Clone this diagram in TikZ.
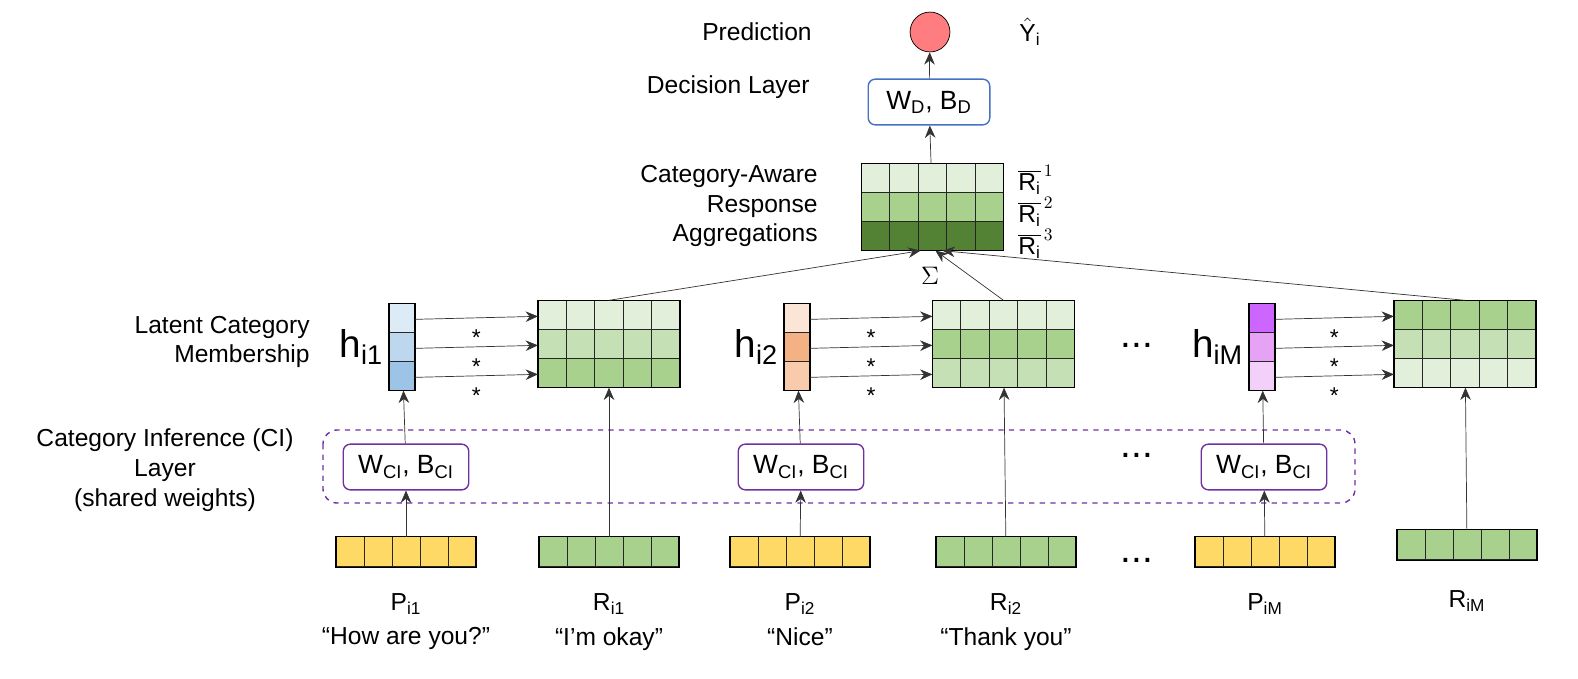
\documentclass[tikz,border=0pt]{standalone}
\usepackage{fontspec}
\setmainfont{Liberation Sans}
\usetikzlibrary{arrows.meta,calc,positioning}
\definecolor{gA}{HTML}{E2EFDA}
\definecolor{gB}{HTML}{C5E0B4}
\definecolor{gC}{HTML}{A9D18E}
\definecolor{gD}{HTML}{548235}
\definecolor{yP}{HTML}{FFD966}
\definecolor{bA}{HTML}{DDEBF7}
\definecolor{bB}{HTML}{BDD7EE}
\definecolor{bC}{HTML}{9DC3E6}
\definecolor{oA}{HTML}{FBE5D6}
\definecolor{oB}{HTML}{F4B183}
\definecolor{oC}{HTML}{F8CBAD}
\definecolor{pA}{HTML}{CC66FF}
\definecolor{pB}{HTML}{E6A3F5}
\definecolor{pC}{HTML}{F2D0F9}
\definecolor{ciPurple}{HTML}{7030A0}
\definecolor{dBlue}{HTML}{4472C4}
\definecolor{predRed}{HTML}{FF7C80}
\tikzset{
  txt/.style={font=\fontsize{14}{17}\selectfont,inner sep=0pt},
  lbl/.style={txt,align=right,anchor=east},
  box/.style={draw,thick,rounded corners=4pt,minimum width=71.4pt,minimum height=26pt,font=\fontsize{15}{18}\selectfont},
  arr/.style={-{Stealth[length=7pt,width=6pt]},draw=black!80},
  cell/.style={draw=black!85,thin},
  star/.style={font=\fontsize{13}{13}\selectfont}
}
% matrix of 3 rows x 5 columns
\newcommand\respmat[3]{%
  \node[minimum width=80.5pt,minimum height=49.3pt,inner sep=0pt] (#1) at (#2) {};
  \foreach \cc [count=\rr] in {#3} {
    \foreach \kk in {0,...,4}
      \draw[cell,fill=\cc] ($(#1.north west)+(\kk*28.4,\rr*29-29)$) rectangle ++(28.4,29);}
  \draw[thick] (#1.north west) rectangle (#1.south east);}
% one row of 5 cells
\newcommand\inrow[3]{%
  \node[minimum width=79.4pt,minimum height=17pt,inner sep=0pt] (#1) at (#2) {};
  \foreach \kk in {0,...,4}
    \draw[cell,fill=#3] ($(#1.north west)+(\kk*28,0)$) rectangle ++(28,30);
  \draw[thick] (#1.north west) rectangle (#1.south east);}
% membership column
\newcommand\hcol[3]{%
  \node[minimum width=14.2pt,minimum height=49.3pt,inner sep=0pt] (#1) at (#2) {};
  \foreach \cc [count=\rr] in {#3}
    \draw[cell,fill=\cc] ($(#1.north west)+(0,\rr*29-29)$) rectangle ++(25,29);
  \draw[thick] (#1.north west) rectangle (#1.south east);}
\begin{document}
\begin{tikzpicture}[x=0.02cm,y=-0.02cm]
\useasboundingbox (0,0) rectangle (1578,679);
% top part
\node[circle,draw,fill=predRed,minimum size=22.7pt,inner sep=0pt] (pred) at (930,32) {};
\node[txt] (yhat) at (1030,32) {$\hat{\mathrm{Y}}_{\mathrm{i}}$};
\node[lbl] at (812,32) {Prediction};
\node[box,draw=dBlue,minimum width=69.2pt] (dec) at (929,102) {W\textsubscript{D}, B\textsubscript{D}};
\node[lbl] at (810,87) {Decision Layer};
\respmat{agg}{932.5,207}{gA,gC,gD}
\node[lbl] at (818,206) {Category-Aware\\Response\\Aggregations};
\node[txt,anchor=west] at (1018,180) {$\overline{\mathrm{R}_{\mathrm{i}}}^{\,1}$};
\node[txt,anchor=west] at (1018,212) {$\overline{\mathrm{R}_{\mathrm{i}}}^{\,2}$};
\node[txt,anchor=west] at (1018,244) {$\overline{\mathrm{R}_{\mathrm{i}}}^{\,3}$};
\node[txt] (sum) at (930,276) {$\Sigma$};
\draw[arr] (agg) -- (dec);
\draw[arr] (dec) -- (pred);
% latent membership
\node[lbl] at (310,342) {Latent Category\\Membership};
\hcol{h1}{402,347}{bA,bB,bC}
\hcol{h2}{797,347}{oA,oB,oC}
\hcol{h3}{1262,347}{pA,pB,pC}
\node[font=\fontsize{22}{24}\selectfont,anchor=east] at (h1.west) {h\textsubscript{i1}};
\node[font=\fontsize{22}{24}\selectfont,anchor=east] at (h2.west) {h\textsubscript{i2}};
\node[font=\fontsize{22}{24}\selectfont,anchor=east] at (h3.west) {h\textsubscript{iM}};
\respmat{m1}{609,344}{gA,gB,gC}
\respmat{m2}{1003.5,344}{gA,gC,gB}
\respmat{m3}{1465,344}{gC,gB,gA}
\foreach \hv/\mv in {h1/m1,h2/m2,h3/m3}
  \foreach \rw in {16,45,74}
    \draw[arr] ($(\hv.north east)+(0,\rw)$) -- ($(\mv.north west)+(0,\rw)$)
      node[midway,below=3pt,star] {*};
\node[font=\fontsize{22}{22}\selectfont] at (1137,345) {...};
% aggregation connectors
\draw[arr] (m1.north) -- ($(agg.south)+(-12,0)$);
\draw[arr] (m2.north) -- ($(agg.south)+(3,0)$);
\draw[arr] (m3.north) -- ($(agg.south)+(10,0)$);
% CI layer
\draw[ciPurple,thick,dashed,rounded corners=8pt] (323,430) rectangle (1355,503);
\node[txt,align=center] at (165,470) {Category Inference (CI)\\Layer\\(shared weights)};
\node[box,draw=ciPurple] (w1) at (406,467) {W\textsubscript{CI}, B\textsubscript{CI}};
\node[box,draw=ciPurple] (w2) at (801,467) {W\textsubscript{CI}, B\textsubscript{CI}};
\node[box,draw=ciPurple] (w3) at (1264,467) {W\textsubscript{CI}, B\textsubscript{CI}};
\node[font=\fontsize{22}{22}\selectfont] at (1137,455) {...};
% inputs
\inrow{p1}{406,552}{yP}
\inrow{r1}{609,552}{gC}
\inrow{p2}{800,552}{yP}
\inrow{r2}{1006,552}{gC}
\inrow{p3}{1265,552}{yP}
\inrow{r3}{1467,545}{gC}
\node[font=\fontsize{22}{22}\selectfont] at (1137,560) {...};
\foreach \pv/\wv/\hv in {p1/w1/h1,p2/w2/h2,p3/w3/h3} {
  \draw[arr] (\pv) -- (\wv);
  \draw[arr] (\wv) -- (\hv);}
\foreach \rv/\mv in {r1/m1,r2/m2,r3/m3}
  \draw[arr] (\rv) -- (\mv);
\node[txt,below=15pt of p1] (tp1) {P\textsubscript{i1}};
\node[txt,below=15pt of r1] (tr1) {R\textsubscript{i1}};
\node[txt,below=15pt of p2] (tp2) {P\textsubscript{i2}};
\node[txt,below=15pt of r2] (tr2) {R\textsubscript{i2}};
\node[txt,below=15pt of p3] (tp3) {P\textsubscript{iM}};
\node[txt,below=17pt of r3] (tr3) {R\textsubscript{iM}};
\node[txt,below=7pt of tp1] {“How are you?”};
\node[txt,below=7pt of tr1] {“I’m okay”};
\node[txt,below=7pt of tp2] {“Nice”};
\node[txt,below=7pt of tr2] {“Thank you”};
\end{tikzpicture}
\end{document}
